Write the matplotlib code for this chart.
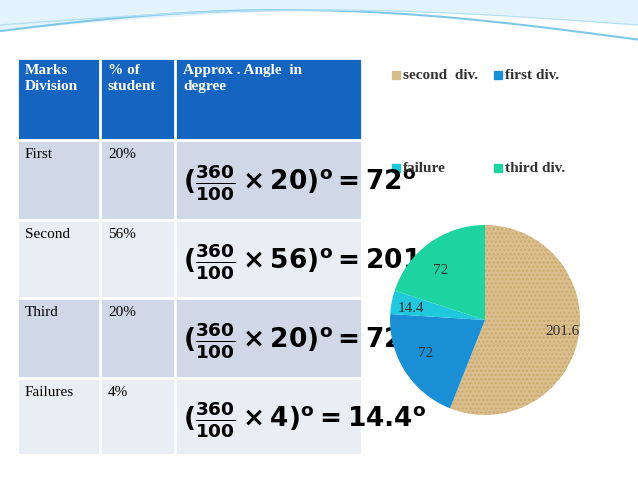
import matplotlib.pyplot as plt
import matplotlib.patches as mpatches
import numpy as np

# table data
headers = ["Marks\nDivision", "% of\nstudent", "Approx . Angle  in\ndegree"]
divisions = ["First", "Second", "Third", "Failures"]
percents = ["20%", "56%", "20%", "4%"]
pct_vals = [20, 56, 20, 4]
angle_txt = ["72", "201.6", "72", "14.4"]

# pie data
pie_labels = ["second  div.", "first div.", "failure", "third div."]
pie_values = [201.6, 72, 14.4, 72]
pie_text = ["201.6", "72", "14.4", "72"]
pie_colors = ["#d9bd8c", "#1a8fd6", "#1fc8dc", "#1dd3a0"]

plt.rcParams["mathtext.fontset"] = "custom"
plt.rcParams["mathtext.rm"] = "Liberation Sans Narrow:bold"
plt.rcParams["mathtext.it"] = "Liberation Sans Narrow:bold"

fig = plt.figure(figsize=(6.38, 4.78), dpi=100)
bg = fig.add_axes([0, 0, 1, 1])
bg.set_xlim(0, 638)
bg.set_ylim(478, 0)
bg.axis("off")

# decorative waves at top
xs = np.linspace(0, 638, 200)
bg.fill_between(xs, 0, 30 - 20 * np.sin(xs / 638 * np.pi * 0.9), color="#e3f3fb")
bg.plot(xs, 40 - 30 * np.sin(xs / 638 * np.pi * 0.9 + 0.3), color="#7fc8ea", lw=1.5)
bg.plot(xs, 25 - 15 * np.sin(xs / 638 * np.pi), color="#b5e0f3", lw=1)

cols = [17, 100, 175, 362]
rows = [58, 140, 220, 298, 378, 455]
serif = "Liberation Serif"

bg.add_patch(mpatches.Rectangle((cols[0], rows[0]), cols[-1] - cols[0], rows[1] - rows[0],
                                color="#1565c0"))
for j, h in enumerate(headers):
    bg.text(cols[j] + 8, rows[0] + 6, h, color="white", family=serif, fontsize=11,
            fontweight="bold", va="top", linespacing=1.3)

for i in range(4):
    y0, y1 = rows[i + 1], rows[i + 2]
    c = "#d0d8e8" if i % 2 == 0 else "#e9edf4"
    bg.add_patch(mpatches.Rectangle((cols[0], y0), cols[-1] - cols[0], y1 - y0, color=c))
    bg.text(cols[0] + 8, y0 + 8, divisions[i], family=serif, fontsize=11, va="top")
    bg.text(cols[1] + 8, y0 + 8, percents[i], family=serif, fontsize=11, va="top")
    f = r"$(\frac{360}{100}\times %d)^o = %s^o$" % (pct_vals[i], angle_txt[i])
    bg.text(cols[2] + 8, (y0 + y1) / 2 + 3, f, fontsize=19, va="center", color="black")

for x in cols:
    bg.plot([x, x], [rows[0], rows[-1]], color="white", lw=2)
for y in rows:
    bg.plot([cols[0], cols[-1]], [y, y], color="white", lw=2)

# legend
leg_pos = [(392, 75), (494, 75), (392, 168), (494, 168)]
for (x, y), lab, col in zip(leg_pos, pie_labels, pie_colors):
    bg.add_patch(mpatches.Rectangle((x, y - 4), 8, 8, color=col))
    bg.text(x + 11, y, lab, family=serif, fontsize=11, fontweight="bold",
            va="center", color="#333333")

# pie
r = 95
pax = fig.add_axes([(485 - r) / 638, 1 - (320 + r) / 478, 2 * r / 638, 2 * r / 478])
wedges, texts = pax.pie(pie_values, colors=pie_colors, startangle=90, counterclock=False,
                        labels=pie_text, labeldistance=0.65,
                        textprops=dict(family=serif, fontsize=11, color="#333333"))
wedges[0].set_hatch("....")
wedges[0].set_edgecolor("#c9a86a")
wedges[0].set_linewidth(0)
pax.set_xlim(-1, 1)
pax.set_ylim(-1, 1)
pax.set_aspect("auto")

fig.savefig("out.png", dpi=100)
